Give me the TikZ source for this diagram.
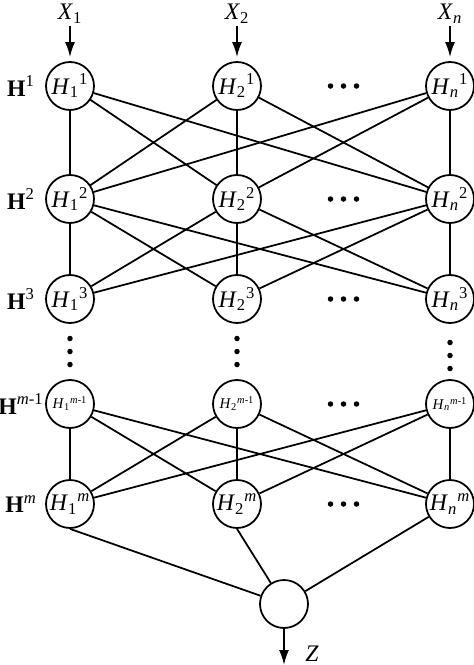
\documentclass[tikz,border=0pt]{standalone}
\usepackage{fontspec}
\setmainfont{Liberation Serif}
\usepackage{tikz}
\usetikzlibrary{positioning,calc}
\usetikzlibrary{arrows.meta,shapes}
\tikzstyle{line} = [-{Latex[length=3mm,width=2mm]}]
\tikzstyle{neuron} = [circle,draw,minimum size=0.96cm,inner sep=0pt,font=\fontsize{13.5}{15}\selectfont]
\tikzstyle{smallneuron} = [neuron,font=\fontsize{8.5}{10}\selectfont]
\tikzstyle{layer} = [inner sep=2pt,font=\fontsize{13.5}{15}\selectfont]
\begin{document}
\begin{tikzpicture}[line width=1pt]
        \useasboundingbox (0,0) rectangle (9.48,-13.3);
        \node[neuron] (h11) at (1.4,-1.72) {\textit{H}\textsubscript{1}\textsuperscript{1}};
        \node[neuron] (h21) at (4.74,-1.72) {\textit{H}\textsubscript{2}\textsuperscript{1}};
        \node[neuron] (hn1) at (9.0,-1.72) {\textit{H}\textsubscript{\textit{n}}\textsuperscript{1}};
        \node[neuron] (h12) at (1.4,-3.98) {\textit{H}\textsubscript{1}\textsuperscript{2}};
        \node[neuron] (h22) at (4.74,-3.98) {\textit{H}\textsubscript{2}\textsuperscript{2}};
        \node[neuron] (hn2) at (9.0,-3.98) {\textit{H}\textsubscript{\textit{n}}\textsuperscript{2}};
        \node[neuron] (h13) at (1.4,-5.98) {\textit{H}\textsubscript{1}\textsuperscript{3}};
        \node[neuron] (h23) at (4.74,-5.98) {\textit{H}\textsubscript{2}\textsuperscript{3}};
        \node[neuron] (hn3) at (9.0,-5.98) {\textit{H}\textsubscript{\textit{n}}\textsuperscript{3}};
        \node[smallneuron] (h1k) at (1.4,-8.08) {\textit{H}\textsubscript{1}\textsuperscript{\textit{m}-1}};
        \node[smallneuron] (h2k) at (4.74,-8.08) {\textit{H}\textsubscript{2}\textsuperscript{\textit{m}-1}};
        \node[smallneuron] (hnk) at (9.0,-8.08) {\textit{H}\textsubscript{\textit{n}}\textsuperscript{\textit{m}-1}};
        \node[neuron] (h1m) at (1.4,-10.08) {\textit{H}\textsubscript{1}\textsuperscript{\textit{m}}};
        \node[neuron] (h2m) at (4.74,-10.08) {\textit{H}\textsubscript{2}\textsuperscript{\textit{m}}};
        \node[neuron] (hnm) at (9.0,-10.08) {\textit{H}\textsubscript{\textit{n}}\textsuperscript{\textit{m}}};
        \node[neuron] (out) at (5.68,-12.08) {};
        \node[layer] (l1) at ($(h11)+(-0.98,0)$) {\textbf{H}\textsuperscript{1}};
        \node[layer] (l2) at ($(h12)+(-0.98,0)$) {\textbf{H}\textsuperscript{2}};
        \node[layer] (l3) at ($(h13)+(-0.98,0)$) {\textbf{H}\textsuperscript{3}};
        \node[layer] (lk) at ($(h1k)+(-0.98,0)$) {\textbf{H}\textsuperscript{\textit{m}-1}};
        \node[layer] (lm) at ($(h1m)+(-0.98,0)$) {\textbf{H}\textsuperscript{\textit{m}}};
        \node[layer,inner sep=1pt,anchor=south] (x1) at ($(h11)+(0,+1.2)$) {\textit{X}\textsubscript{1}};
        \node[layer,inner sep=1pt,anchor=south] (x2) at ($(h21)+(0,+1.2)$) {\textit{X}\textsubscript{2}};
        \node[layer,inner sep=1pt,anchor=south] (xn) at ($(hn1)+(0,+1.2)$) {\textit{X}\textsubscript{\textit{n}}};
        \draw[line,shorten >=0.08cm] (x1) -- (h11);
        \draw[line,shorten >=0.08cm] (x2) -- (h21);
        \draw[line,shorten >=0.08cm] (xn) -- (hn1);
        \draw (h11) -- (h12) (h11) -- (h22) (h11) -- (hn2);
        \draw (h21) -- (h12) (h21) -- (h22) (h21) -- (hn2);
        \draw (hn1) -- (h12) (hn1) -- (h22) (hn1) -- (hn2);
        \draw (h12) -- (h13) (h12) -- (h23) (h12) -- (hn3);
        \draw (h22) -- (h13) (h22) -- (h23) (h22) -- (hn3);
        \draw (hn2) -- (h13) (hn2) -- (h23) (hn2) -- (hn3);
        \draw (h1k) -- (h1m) (h1k) -- (h2m) (h1k) -- (hnm);
        \draw (h2k) -- (h1m) (h2k) -- (h2m) (h2k) -- (hnm);
        \draw (hnk) -- (h1m) (hnk) -- (h2m) (hnk) -- (hnm);
        \draw (h1m.south) -- (out);
        \draw (h2m.south) -- (out);
        \draw (hnm) -- (out);
        \coordinate (zend) at ($(out)+(0,-1.22)$);
        \draw[line] (out) -- (zend);
        \node[layer] (z) at ($(zend)+(0.56,0.22)$) {\textit{Z}};
        \fill ($(h21)!0.5!(hn1)$) circle (0.055) +(-0.26,0) circle (0.055) +(0.26,0) circle (0.055);
        \fill ($(h22)!0.5!(hn2)$) circle (0.055) +(-0.26,0) circle (0.055) +(0.26,0) circle (0.055);
        \fill ($(h23)!0.5!(hn3)$) circle (0.055) +(-0.26,0) circle (0.055) +(0.26,0) circle (0.055);
        \fill ($(h2k)!0.5!(hnk)$) circle (0.055) +(-0.26,0) circle (0.055) +(0.26,0) circle (0.055);
        \fill ($(h2m)!0.5!(hnm)$) circle (0.055) +(-0.26,0) circle (0.055) +(0.26,0) circle (0.055);
        \fill ($(h13)!0.5!(h1k)$) circle (0.055) +(0,0.26) circle (0.055) +(0,-0.26) circle (0.055);
        \fill ($(h23)!0.5!(h2k)$) circle (0.055) +(0,0.26) circle (0.055) +(0,-0.26) circle (0.055);
        \fill ($(hn3)!0.5!(hnk)+(0,-0.08)$) circle (0.055) +(0,0.26) circle (0.055) +(0,-0.26) circle (0.055);
    \end{tikzpicture}
\end{document}
